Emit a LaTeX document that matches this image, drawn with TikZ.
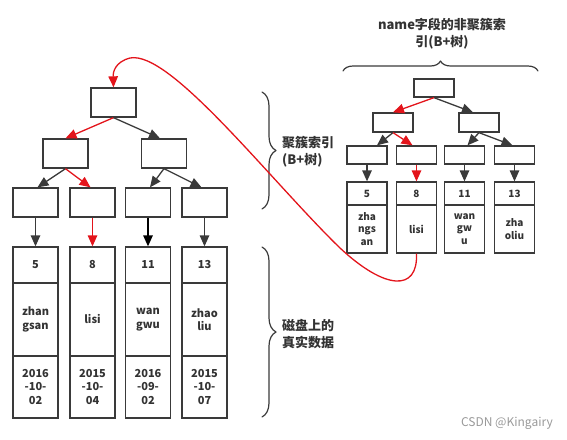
\documentclass[tikz,border=0pt]{standalone}
\usepackage{fontspec}
\setmainfont{Noto Sans CJK SC}
\usetikzlibrary{arrows.meta,decorations.pathreplacing}
\definecolor{boxc}{HTML}{3A3A3A}
\definecolor{redc}{HTML}{E3141B}
\definecolor{textc}{HTML}{333333}
\begin{document}
\begin{tikzpicture}[x=1pt,y=-1pt,
  box/.style={draw=boxc, line width=1.3pt, inner sep=0pt, text=textc, align=center},
  lbox/.style={box, minimum width=45pt, font=\bfseries\fontsize{11}{13.3}\selectfont},
  rbox/.style={box, minimum width=40pt, font=\bfseries\fontsize{10}{12.3}\selectfont},
  arr/.style={draw=boxc, line width=1.3pt, -{Triangle[length=11pt,width=9.5pt]}},
  rarr/.style={draw=redc, line width=1.3pt, -{Triangle[length=11pt,width=9.5pt]}},
  brc/.style={draw=boxc, line width=1.2pt, line join=round, line cap=round, decorate},
  lab/.style={text=textc, font=\bfseries\fontsize{13}{17}\selectfont, align=left, inner sep=0pt}
]
\useasboundingbox (0,0) rectangle (567,439);

% ---------- left clustered tree ----------
\node[lbox, minimum height=29pt] (L0) at (113.5,102.5) {};
\node[lbox, minimum height=29pt] (L1) at (65.5,153.5) {};
\node[lbox, minimum height=29pt] (L2) at (164,153.5) {};
\node[lbox, minimum height=29pt] (L3a) at (35.5,202.5) {};
\node[lbox, minimum height=29pt] (L3b) at (92.5,202.5) {};
\node[lbox, minimum height=29pt] (L3c) at (148,202.5) {};
\node[lbox, minimum height=29pt] (L3d) at (204.5,202.5) {};

% data columns
\node[lbox, minimum height=36pt] (Da1) at (35.5,265) {5};
\node[lbox, minimum height=73pt] (Da2) at (35.5,319.5) {zhan\\gsan};
\node[lbox, minimum height=62pt] (Da3) at (35.5,387) {2016\\-10-\\02};
\node[lbox, minimum height=36pt] (Db1) at (92.5,265) {8};
\node[lbox, minimum height=73pt] (Db2) at (92.5,319.5) {lisi};
\node[lbox, minimum height=62pt] (Db3) at (92.5,387) {2015\\-10-\\04};
\node[lbox, minimum height=36pt] (Dc1) at (148,265) {11};
\node[lbox, minimum height=73pt] (Dc2) at (148,319.5) {wan\\gwu};
\node[lbox, minimum height=62pt] (Dc3) at (148,387) {2016\\-09-\\02};
\node[lbox, minimum height=36pt] (Dd1) at (204.5,265) {13};
\node[lbox, minimum height=73pt] (Dd2) at (204.5,319.5) {zhao\\liu};
\node[lbox, minimum height=62pt] (Dd3) at (204.5,387) {2015\\-10-\\07};

\draw[rarr] (L0.south) -- (L1.north);
\draw[arr] (L0.south) -- ([xshift=-4pt]L2.north);
\draw[arr] (L1.south) -- ([xshift=2pt]L3a.north);
\draw[rarr] (L1.south) -- ([xshift=-2pt]L3b.north);
\draw[arr] (L2.south) -- ([xshift=2pt]L3c.north);
\draw[arr] (L2.south) -- ([xshift=-3pt]L3d.north);
\draw[arr] (L3a.south) -- (Da1.north);
\draw[rarr] (L3b.south) -- (Db1.north);
\draw[arr, draw=black] (L3c.south) -- (Dc1.north);
\draw[arr] (L3d.south) -- (Dd1.north);

% ---------- right secondary index tree ----------
\node[rbox, minimum height=18pt] (R0) at (434,88) {};
\node[rbox, minimum height=19pt] (R1) at (393,122.5) {};
\node[rbox, minimum height=19pt] (R2) at (479,122.5) {};
\node[rbox, minimum height=18pt] (R3a) at (367,155) {};
\node[rbox, minimum height=18pt] (R3b) at (416.5,155) {};
\node[rbox, minimum height=18pt] (R3c) at (464.5,155) {};
\node[rbox, minimum height=18pt] (R3d) at (514.5,155) {};

\node[rbox, minimum height=23pt] (Ra1) at (367,193.5) {5};
\node[rbox, minimum height=48pt] (Ra2) at (367,229) {zha\\ngs\\an};
\node[rbox, minimum height=23pt] (Rb1) at (416.5,193.5) {8};
\node[rbox, minimum height=48pt] (Rb2) at (416.5,229) {lisi};
\node[rbox, minimum height=23pt] (Rc1) at (464.5,193.5) {11};
\node[rbox, minimum height=48pt] (Rc2) at (464.5,229) {wan\\gw\\u};
\node[rbox, minimum height=23pt] (Rd1) at (514.5,193.5) {13};
\node[rbox, minimum height=48pt] (Rd2) at (514.5,229) {zha\\oliu};

\draw[rarr] (R0.south) -- (R1.north);
\draw[arr] (R0.south) -- ([xshift=-6pt]R2.north);
\draw[arr] (R1.south) -- ([xshift=10pt]R3a.north);
\draw[rarr] (R1.south) -- ([xshift=-4pt]R3b.north);
\draw[arr] (R2.south) -- ([xshift=3pt]R3c.north);
\draw[arr] (R2.south) -- ([xshift=-2pt]R3d.north);
\draw[arr] (R3a.south) -- (Ra1.north);
\draw[rarr] (R3b.south) -- (Rb1.north);
\draw[arr] (R3c.south) -- (Rc1.north);
\draw[arr] (R3d.south) -- (Rd1.north);

% ---------- braces and labels ----------
\coordinate (B1a) at (262,92);
\coordinate (B1b) at (262,209);
\coordinate (B2a) at (262,247);
\coordinate (B2b) at (262,417);
\coordinate (B3a) at (343,71);
\coordinate (B3b) at (538,71);
\draw[brc, decoration={brace, amplitude=14pt}] (B1a) -- (B1b);
\draw[brc, decoration={brace, amplitude=14pt}] (B2a) -- (B2b);
\draw[brc, decoration={brace, amplitude=10pt}] (B3a) -- (B3b);

\node[lab, anchor=west] (lab1) at (282,152) {聚簇索引\\(B+树)};
\node[lab, anchor=west] (lab2) at (282,334) {磁盘上的\\真实数据};
\node[lab, align=center] (lab3) at (442,34) {name字段的非聚簇索\\引(B+树)};

% ---------- red pointer curve ----------
\draw[rarr] (Rb2.south) .. controls (418,292) and (385,290) .. (340,248)
  .. controls (270,180) and (170,50) .. (130,58)
  .. controls (115,62) and (113,72) .. (L0.north);

\node[text=gray!80, font=\fontsize{12}{14}\selectfont, anchor=east, inner sep=0pt] (wm) at (553,423) {CSDN @Kingairy};
\end{tikzpicture}
\end{document}
